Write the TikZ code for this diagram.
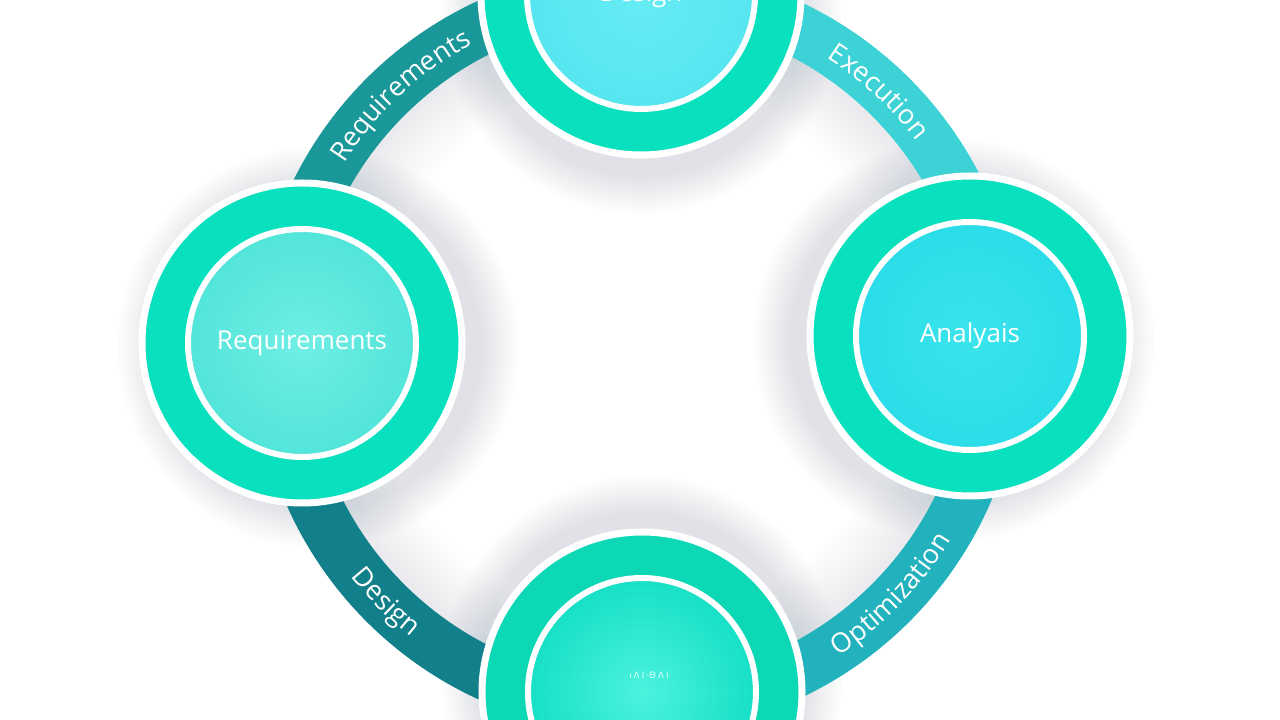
\documentclass[tikz,border=0pt]{standalone}
\usepackage{fontspec}
\setmainfont{Open Sans}
\usetikzlibrary{decorations.text,calc}
\definecolor{segTL}{HTML}{1A9799}
\definecolor{segTR}{HTML}{3CD2D6}
\definecolor{segBR}{HTML}{22B2BD}
\definecolor{segBL}{HTML}{12808A}
\definecolor{mint}{HTML}{08E0BE}
\definecolor{mintB}{HTML}{0CD8B6}
\definecolor{inLa}{HTML}{70EEE4}
\definecolor{inLb}{HTML}{52E4DA}
\definecolor{inTa}{HTML}{66ECF4}
\definecolor{inTb}{HTML}{56E6F0}
\definecolor{inRa}{HTML}{3AE4EC}
\definecolor{inRb}{HTML}{2ADDE8}
\definecolor{inBa}{HTML}{4CF2DE}
\definecolor{inBb}{HTML}{16E0C6}
\definecolor{shadowc}{HTML}{3E6675}
\newcommand\curvefont{\fontsize{27}{27}\selectfont}
\tikzset{
  outerdisk/.style={circle, draw=white, line width=7pt, minimum size=320pt, inner sep=0pt},
  innerdisk/.style={circle, draw=white, line width=6pt, minimum size=228pt, inner sep=0pt,
     text=white, font=\fontsize{26}{26}\selectfont},
  ringseg/.style={line width=53pt},
  ringlabel/.style={decorate, decoration={text along path, text align=center,
     text color=white, text={|\curvefont|#1}}},
  shadowlayer/.style={fill=shadowc, opacity=0.016},
  innershadow/.style={fill=shadowc, opacity=0.008}
}
\begin{document}
\begin{tikzpicture}[x=1pt,y=1pt]
\useasboundingbox (0,0) rectangle (1280,720);
\clip (0,0) rectangle (1280,720);
\fill[white] (0,0) rectangle (1280,720);
\coordinate (C) at (638,370);
\coordinate (cL) at (302,377);
\coordinate (cR) at (970,384);
\coordinate (cT) at (641,725);
\coordinate (cB) at (642,28);
% inner shadow of the ring
\foreach \r in {325,319,...,271}
  \fill[innershadow, even odd rule] (C) circle (331) (C) circle (\r);
% soft shadows of the circles
\foreach \c/\dx/\dy in {cL/16/-4, cR/-16/-4, cT/0/-18, cB/0/16}
  \foreach \r in {164,168,...,200}
    \fill[shadowlayer] ($(\c)+(\dx,\dy)$) circle (\r);
% ring segments
\draw[ringseg, segTR] ([shift={(0:357.5)}]C) arc[start angle=0, end angle=90, radius=357.5];
\draw[ringseg, segTL] ([shift={(90:357.5)}]C) arc[start angle=90, end angle=180, radius=357.5];
\draw[ringseg, segBL] ([shift={(180:357.5)}]C) arc[start angle=180, end angle=270, radius=357.5];
\draw[ringseg, segBR] ([shift={(270:357.5)}]C) arc[start angle=270, end angle=360, radius=357.5];
% ring labels
\path[ringlabel=Requirements] ([shift={(165:348)}]C) arc[start angle=165, end angle=101, radius=348];
\path[ringlabel=Execution] ([shift={(79:348)}]C) arc[start angle=79, end angle=15, radius=348];
\path[ringlabel=Optimization] ([shift={(284:366)}]C) arc[start angle=284, end angle=348, radius=366];
\path[ringlabel=Design] ([shift={(193:366)}]C) arc[start angle=193, end angle=257, radius=366];
% circles
\node[outerdisk, fill=mint] (oL) at (cL) {};
\node[innerdisk, shade, inner color=inLa, outer color=inLb] (L) at (cL) {Requirements};
\node[outerdisk, fill=mint] (oR) at (cR) {};
\node[innerdisk, shade, inner color=inRa, outer color=inRb] (R) at (cR) {Analyais};
\node[outerdisk, fill=mint] (oT) at (cT) {};
\node[innerdisk, shade, inner color=inTa, outer color=inTb] (T) at (cT) {Design};
\node[outerdisk, fill=mintB] (oB) at (cB) {};
\node[innerdisk, shade, inner color=inBa, outer color=inBb] (B) at (cB) {};
\node[text=white, font=\fontsize{9}{9}\selectfont] (btxt) at (649,45) {ı Λ Ι ·Θ Λ Ι};
\end{tikzpicture}
\end{document}
